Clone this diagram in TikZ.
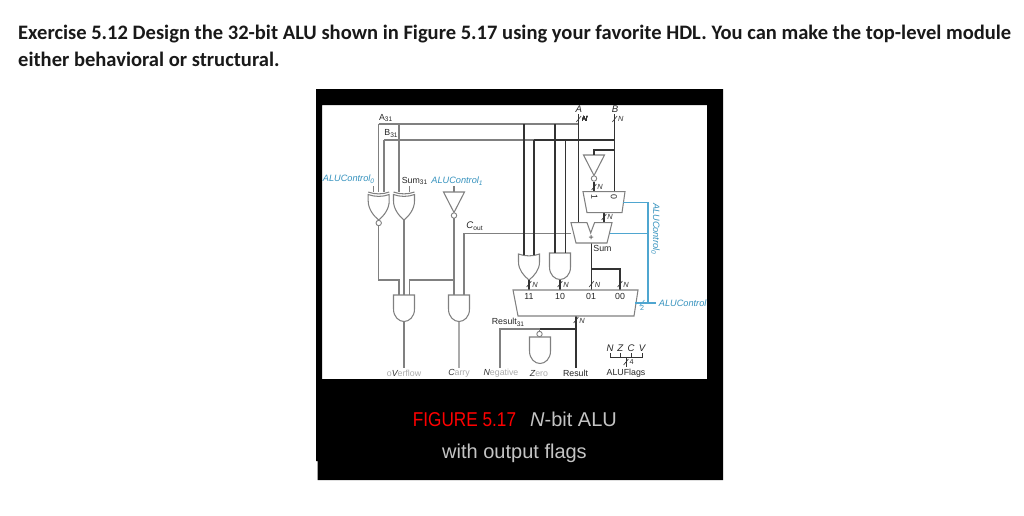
\documentclass[tikz,border=0pt]{standalone}
\usepackage{fontspec}
\setmainfont{Liberation Sans}
\newfontfamily\titlefont{Carlito}
\definecolor{wiregray}{HTML}{808080}
\definecolor{busdark}{HTML}{333333}
\definecolor{ctlblue}{HTML}{4FA6D0}
\definecolor{lblblue}{HTML}{3592BE}
\definecolor{lblgray}{HTML}{ABABAB}
\definecolor{capgray}{HTML}{C4C4C4}
\definecolor{capred}{HTML}{FF0000}
\newcommand{\sz}[1]{\fontsize{#1}{#1}\selectfont}
\newcommand{\sbs}[1]{\raisebox{-1.8pt}{\fontsize{6.6}{6.6}\selectfont #1}}
\tikzset{
  x=1pt,y=-1pt,
  wire/.style={draw=wiregray,line width=1.05pt},
  bus/.style={draw=busdark,line width=1.35pt},
  ctl/.style={draw=ctlblue,line width=1.05pt},
  lightwire/.style={draw=lblgray,line width=1.2pt},
  gatebody/.style={draw=wiregray,line width=1.05pt,fill=white},
  ticks/.style={draw=busdark,line width=0.6pt},
  lbl/.style={inner sep=0pt,text=black!85,font=\sz{8.8}},
  blbl/.style={inner sep=0pt,text=lblblue,font=\sz{9.2}\itshape},
  outlbl/.style={inner sep=0pt,text=lblgray,font=\sz{8.8}},
  widthlbl/.style={inner sep=0pt,text=black!80,font=\sz{7.4}\itshape},
  titletext/.style={inner sep=0pt,anchor=base west,text=black!90,font=\titlefont\bfseries\sz{20.55}},
  captext/.style={inner sep=0pt,anchor=base west,font=\sz{20}},
  andgate/.pic={\path[gatebody] (-10.5,0) -- (10.5,0) -- (10.5,14) .. controls (10.5,22) and (5,26.5) .. (0,26.5) .. controls (-5,26.5) and (-10.5,22) .. (-10.5,14) -- cycle;},
  orgate/.pic={\path[gatebody] (-10.5,1) .. controls (-4,3.5) and (4,3.5) .. (10.5,1) -- (10.5,9) .. controls (10.5,17) and (5,23) .. (0,27) .. controls (-5,23) and (-10.5,17) .. (-10.5,9) -- cycle;},
  xorgate/.pic={\path[gatebody] (-10.5,2.5) .. controls (-4,5) and (4,5) .. (10.5,2.5) -- (10.5,9) .. controls (10.5,17) and (5,24) .. (0,28) .. controls (-5,24) and (-10.5,17) .. (-10.5,9) -- cycle;
     \draw[wire] (-10.5,0) .. controls (-4,2.5) and (4,2.5) .. (10.5,0);},
  invgate/.pic={\path[gatebody] (-10.5,0) -- (10.5,0) -- (0,20.5) -- cycle;},
}
\newcommand{\slashmark}[2]{\draw[ticks] (#1-2.4,#2+3) -- (#1+2.4,#2-3);}
\begin{document}
\begin{tikzpicture}
\useasboundingbox (0,0) rectangle (1024,515);
\fill[white] (0,0) rectangle (1024,515);

% exercise text
\node[titletext] (ttl1) at (18,39) {Exercise 5.12 Design the 32-bit ALU shown in Figure 5.17 using your favorite HDL. You can make the top-level module};
\node[titletext] (ttl2) at (18,66) {either behavioral or structural.};

% pins and junctions
\coordinate (Atop) at (578.7,114);  \coordinate (Btop) at (614.7,114);
\coordinate (Arail) at (578.7,124); \coordinate (Brail) at (614.7,140);
\coordinate (Bbranch) at (614.7,150);
\coordinate (a31a) at (378.7,124);  \coordinate (a31b) at (399,124);
\coordinate (b31a) at (384,140);
\coordinate (xa) at (378.7,192);    \coordinate (xb) at (384,192);  \coordinate (xc) at (373.5,192);
\coordinate (xd) at (399,192);      \coordinate (xe) at (409.3,192);
\coordinate (ctl0in) at (373.5,186);\coordinate (sumin) at (409.3,186);
\coordinate (ctl1in) at (454,186);
\coordinate (x2out) at (404,220);
\coordinate (inv1out) at (454,218);
\coordinate (ovA) at (399,295);     \coordinate (ovB) at (404,295); \coordinate (ovC) at (409.3,295);
\coordinate (cyA) at (454,295);     \coordinate (cyB) at (464,295);
\coordinate (cout) at (571,233.3);
\coordinate (ovout) at (404,321.5); \coordinate (cyout) at (459,321.5);
\coordinate (ovend) at (404,368);   \coordinate (cyend) at (459,368);
\coordinate (negend) at (500,368);  \coordinate (negtop) at (500,329);
\coordinate (resout) at (576,316);  \coordinate (resj) at (576,329);
\coordinate (resend) at (576,368);
\coordinate (ca) at (524,124); \coordinate (cb) at (534,140);
\coordinate (cc) at (555,124); \coordinate (cd) at (565.7,140);
\coordinate (sumout) at (591.5,243); \coordinate (sumj) at (591.5,269);

% main gates
\pic at (378.7,192) {xorgate};
\pic at (404,192) {xorgate};
\pic at (454,192) {invgate};
\pic at (404,295) {andgate};
\pic at (459,295) {andgate};
\pic at (529,253) {orgate};
\pic at (560,253) {andgate};
\pic at (594,155) {invgate};
\pic at (540,337) {andgate};
\foreach \bx/\by/\bn in {378.7/223/bub1,454/215.5/bub2,594/178.5/bub3,539.5/334/bub4}
  \node[circle,draw=wiregray,line width=0.9pt,fill=white,inner sep=0pt,minimum size=5.4pt] (\bn) at (\bx,\by) {};

% thin wires
\draw[wire] (a31a) -- (Arail);
\draw[wire] (b31a) -- (cb);
\draw[wire] (a31a) -- (xa);
\draw[wire] (b31a) -- (xb);
\draw[wire] (a31b) -- (xd);
\draw[wire] (ctl0in) -- (xc);
\draw[wire] (sumin) -- (xe);
\draw[wire] (ctl1in) -- (454,192);
\draw[wire] (bub1.south) -- (378.7,280) -| (ovA);
\draw[wire] (x2out) -- (ovB);
\draw[wire] (inv1out) -- (cyA);
\draw[wire] (454,280) -| (ovC);
\draw[wire] (cout) -- (464,233.3) -- (cyB);
\draw[wire] (ovout) -- (ovend);
\draw[lightwire] (cyout) -- (cyend);
\draw[wire] (negend) -- (negtop) -- (539.5,329);
\draw[wire] (539.5,329) -- (bub4.north);

% buses
\draw[bus] (Atop) -- (578.7,223);
\draw[bus] (Btop) -- (614.7,192);
\draw[bus] (Bbranch) -- (594,150) -- (594,155);
\draw[bus] (ca) -- (524,255);
\draw[bus] (cb) -- (534,255);
\draw[bus] (cc) -- (555,253);
\draw[bus] (cd) -- (565.7,253);
\draw[bus] (cb) -- (Brail);
\draw[bus] (bub3.south) -- (594,192);
\draw[bus] (604,212.7) -- (604,223);
\draw[bus] (sumout) -- (591.5,290);
\draw[bus] (sumj) -- (620,269) -- (620,290);
\draw[bus] (529,280) -- (529,290);
\draw[bus] (560,279.5) -- (560,290);
\draw[bus] (resout) -- (resend);
\draw[bus] (resj) -- (539.5,329);

% small mux
\draw[gatebody] (583,191.7) -- (625,191.7) -- (622,212.7) -- (587,212.7) -- cycle;
\node[lbl,rotate=-90] (mux1) at (594.5,196.5) {1};
\node[lbl,rotate=-90] (mux0) at (614,196.5) {0};
% adder
\draw[gatebody] (571,222.7) -- (587,222.7) -- (590.7,233) -- (594.5,222.7) -- (612,222.7) -- (607,243) -- (576,243) -- cycle;
\node[lbl] (plus) at (591.3,238.3) {+};
% main mux
\draw[gatebody] (513,290) -- (638,290) -- (634,316) -- (518,316) -- cycle;
\foreach \mx/\mt/\mn in {529/11/m3,560/10/m2,591/01/m1,620/00/m0}
  \node[lbl] (\mn) at (\mx,296.5) {\mt};

% control wires (blue)
\coordinate (bluebend) at (648,202.7);
\coordinate (bluejoin) at (648,233.3);
\coordinate (bluectl) at (648,303);
\coordinate (ctlend) at (656,303);
\draw[ctl] (623,202.7) -- (bluebend) -- (bluectl);
\draw[ctl] (609.5,233.3) -- (bluejoin);
\draw[ctl] (635,303) -- (ctlend);
\draw[draw=ctlblue,line width=0.7pt] (639.6,306) -- (644.4,300);
\node[inner sep=0pt,text=lblblue,font=\sz{7.2}] (two) at (642,308) {2};
\node[blbl,anchor=west] (ctlR) at (658.7,303) {ALUControl};
\node[blbl,rotate=-90,anchor=west] (ctlS) at (655.5,203) {ALUControl\sbs{0}};

% width slashes
\foreach \sx/\sy in {578.7/119,614.7/119,594/187,604/217,529/284,560/284,591.5/284,620/284,576/320,626/362}
  \slashmark{\sx}{\sy}
\node[widthlbl] (wA) at (584.7,119) {N};
\node[widthlbl] (wB) at (620.7,119) {N};
\node[widthlbl] (wC) at (600,186.5) {N};
\node[widthlbl] (wD) at (610,216.5) {N};
\node[widthlbl] (wE) at (535,284.5) {N};
\node[widthlbl] (wF) at (566,284.5) {N};
\node[widthlbl] (wG) at (597.5,284.5) {N};
\node[widthlbl] (wH) at (626,284.5) {N};
\node[widthlbl] (wI) at (582,320.5) {N};
\node[inner sep=0pt,text=black!80,font=\sz{7.2}] (wJ) at (631.5,362.5) {4};

% flags
\coordinate (fN) at (610,353); \coordinate (fZ) at (620,353);
\coordinate (fC) at (631,353); \coordinate (fV) at (642,353);
\coordinate (fbar) at (626,357.3); \coordinate (fout) at (626,367);
\draw[draw=busdark,line width=0.8pt] (fN) -- (610,357.3) -- (642,357.3) -- (fV);
\draw[draw=busdark,line width=0.8pt] (fZ) -- (620,357.3);
\draw[draw=busdark,line width=0.8pt] (fC) -- (631,357.3);
\draw[draw=busdark,line width=0.8pt] (fbar) -- (fout);
\node[lbl,font=\sz{9.6}\itshape] (lN) at (610,348) {N};
\node[lbl,font=\sz{9.6}\itshape] (lZ) at (620.3,348) {Z};
\node[lbl,font=\sz{9.6}\itshape] (lC) at (631,348) {C};
\node[lbl,font=\sz{9.6}\itshape] (lV) at (642,348) {V};

% text labels
\node[lbl] (tA31) at (385.7,118) {A\sbs{31}};
\node[lbl] (tB31) at (391,133.5) {B\sbs{31}};
\node[blbl] (tc0) at (348.5,179.5) {ALUControl\sbs{0}};
\node[lbl] (tsum31) at (414.5,181) {Sum\sbs{31}};
\node[blbl] (tc1) at (457,181) {ALUControl\sbs{1}};
\node[lbl,font=\sz{9.6}] (tcout) at (474.5,226.5) {\textit{C}\sbs{out}};
\node[lbl,font=\sz{9.6}\itshape] (tA) at (578.7,109.5) {A};
\node[lbl,font=\sz{9.6}\itshape] (tB) at (615,109.5) {B};
\node[lbl] (tsum) at (602.5,248.5) {Sum};
\node[lbl] (tres31) at (508,322.5) {Result\sbs{31}};
\node[outlbl] (tov) at (404,373.7) {o\textcolor{black!80}{\itshape V}erflow};
\node[outlbl] (tcy) at (459,373.7) {\textcolor{black!80}{\itshape C}arry};
\node[outlbl] (tng) at (501,373.7) {\textcolor{black!80}{\itshape N}egative};
\node[outlbl] (tze) at (539,373.7) {\textcolor{black!80}{\itshape Z}ero};
\node[lbl] (tre) at (575.5,373.7) {Result};
\node[lbl] (tfl) at (626,373.7) {ALUFlags};

% black frame over the diagram
\fill[black,even odd rule] (316,89) -- (723,89) -- (723,480) -- (317.5,480) -- (317.5,461) -- (316,461) -- cycle
   (322,105) rectangle (707,379);

% caption
\node[captext,text=capred,xscale=0.86,anchor=base] (figno) at (464.5,426.5) {FIGURE 5.17};
\node[captext,text=capgray] (figname) at (530,426.5) {\textit{N}-bit ALU};
\node[captext,text=capgray,anchor=base] (figsub) at (514.5,458) {with output flags};
\end{tikzpicture}
\end{document}
